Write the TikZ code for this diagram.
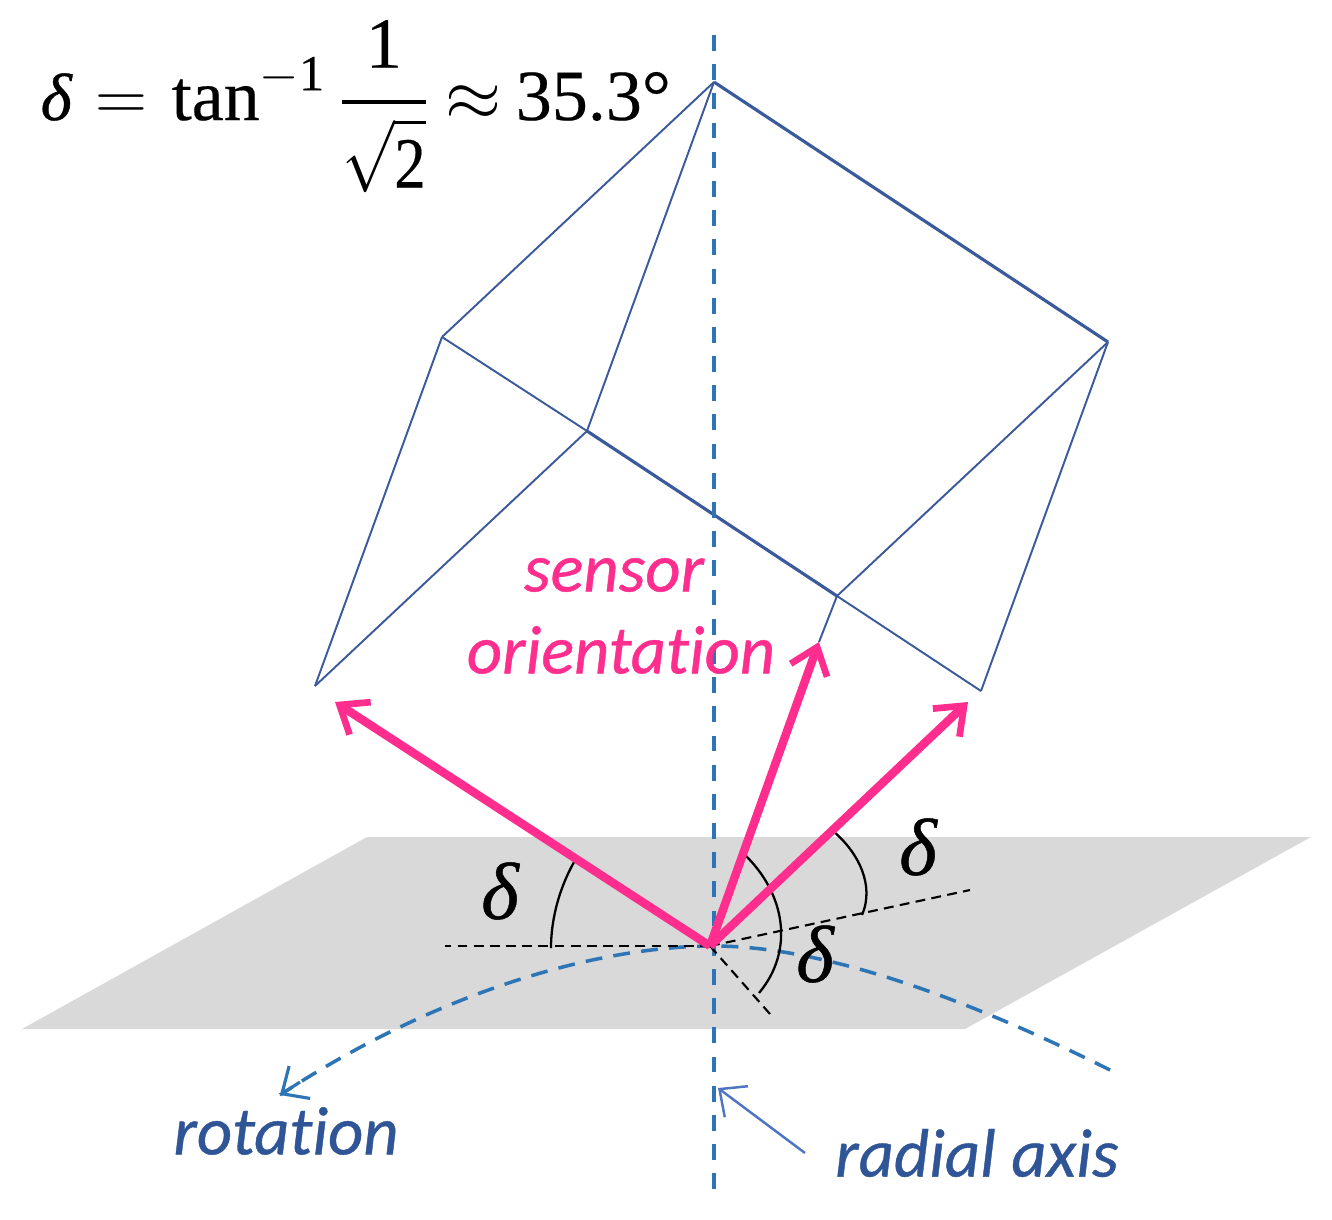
\RequirePackage{fix-cm}
\documentclass[tikz,border=0pt]{standalone}
\usepackage{amsmath, amssymb}
\usepackage{xcolor}
\usepackage{fontspec}
\setmainfont[FakeBold=0.3]{Liberation Serif}
\setsansfont[Ligatures=NoCommon, ItalicFeatures={FakeBold=0.6}]{Carlito}
\newfontface\deltaface[FakeBold=0.6]{Liberation Serif Italic}
\usepackage{tikz}
\usetikzlibrary{arrows.meta}

\definecolor{plane}{HTML}{D9D9D9}
\definecolor{cube}{HTML}{3A5A9C}
\definecolor{sensor}{HTML}{FF2E8E}
\definecolor{axis}{HTML}{2E75B6}
\definecolor{label}{HTML}{2F5597}
\definecolor{pointer}{HTML}{4F74C4}

\tikzset{
  edge/.style={draw=cube, line width=0.55pt},
  heavyedge/.style={draw=cube, line width=0.9pt},
  sensorvec/.style={draw=sensor, line width=2.4pt, -{Straight Barb[length=7pt, width=11pt, line width=1.9pt]}},
  axisline/.style={draw=axis, line width=1pt, dash pattern=on 4.5pt off 3.8pt},
  rotline/.style={draw=axis, line width=1pt, dash pattern=on 4.8pt off 3.2pt},
  refline/.style={draw=black, line width=0.6pt, dash pattern=on 2.8pt off 1.8pt},
  anglearc/.style={draw=black, line width=0.65pt},
  deltalabel/.style={font=\fontsize{23}{26}\selectfont\deltaface},
  bluelabel/.style={text=label, font=\sffamily\itshape\fontsize{19.5}{24}\selectfont},
  pinklabel/.style={text=sensor, font=\sffamily\itshape\fontsize{19.5}{24}\selectfont}
}

\begin{document}
\begin{tikzpicture}[x=0.01cm, y=-0.01cm]
\useasboundingbox (0,0) rectangle (1332,1220);

\fill[plane] (367,837) -- (1311,837) -- (965,1029) -- (22,1029) -- cycle;

% cube
\coordinate (top) at (714,82);
\coordinate (left) at (442,337);
\coordinate (right) at (1108,342);
\coordinate (back) at (587,431);
\coordinate (mid) at (837,596);
\coordinate (lowleft) at (315,686);
\coordinate (lowright) at (981,691);
\coordinate (origin) at (710,946);
\coordinate (lowmid) at (819,642);

\draw[edge] (top) -- (left);
\draw[heavyedge] (top) -- (right);
\draw[edge] (top) -- (back);
\draw[edge] (left) -- (back);
\draw[heavyedge] (back) -- (mid);
\draw[edge] (mid) -- (lowright);
\draw[edge] (left) -- (lowleft);
\draw[edge] (back) -- (lowleft);
\draw[edge] (mid) -- (right);
\draw[edge] (right) -- (lowright);
\draw[edge] (mid) -- (lowmid);

% axis and rotation
\coordinate (axistop) at (714,35);
\coordinate (axisend) at (714,1192);
\coordinate (rotleft) at (280,1095);
\coordinate (rotright) at (1110,1070);
\coordinate (pointtail) at (805,1153);
\coordinate (pointtip) at (718,1088);
\draw[axisline] (axistop) -- (axisend);
\draw[rotline] (rotright) .. controls (980,1005) and (830,946) .. (714,946);
\draw[rotline] (714,946) .. controls (600,946) and (440,990) .. (rotleft);
\draw[draw=axis, line width=0.9pt, -{Straight Barb[length=6pt, width=11pt]}] (300,1082) -- (rotleft);
\draw[draw=pointer, line width=0.7pt, -{Straight Barb[length=6pt, width=11pt]}] (pointtail) -- (pointtip);

% reference lines
\coordinate (refleft) at (445,946);
\coordinate (refright) at (970,890);
\coordinate (reflow) at (770,1014);
\draw[refline] (origin) -- (refleft);
\draw[refline] (origin) -- (refright);
\draw[refline] (origin) -- (reflow);

% angles
\draw[anglearc] (551,948) .. controls (551,918) and (560,885) .. (577,857);
\draw[anglearc] (833,831) .. controls (858,852) and (875,885) .. (862,915);
\draw[anglearc] (744,854) .. controls (785,893) and (795,950) .. (759,993);

% vectors
\draw[sensorvec] (origin) -- (335,702);
\draw[sensorvec] (origin) -- (lowmid);
\draw[sensorvec] (origin) -- (968,702);

% labels
\node[deltalabel] (deltaleft) at (500,891) {δ};
\node[deltalabel] (deltaright) at (918,847) {δ};
\node[deltalabel] (deltamid) at (815,954) {δ};
\node[pinklabel] (sensorword) at (614,575) {sensor};
\node[pinklabel] (orientword) at (621,650) {orientation};
\node[bluelabel] (rotword) at (286,1131) {rotation};
\node[bluelabel] (radialword) at (977,1153) {radial axis};
\node[anchor=base west, inner sep=0pt, font=\fontsize{20.5}{24}\selectfont] (formula) at (40,120) {$\displaystyle \nulldelimiterspace=0pt
  \text{\fontsize{19}{22}\selectfont\deltaface δ}\mkern6mu{=}\mkern6mu\mathrm{tan}^{-\mathrm{1}}\mkern4mu\genfrac{}{}{1.3pt}{0}{\hbox{\raise1pt\hbox{$\mathrm{1}$}}}{\hbox{\lower2.3pt\hbox{\scalebox{0.87}[1]{$\displaystyle\sqrt{\mathrm{2}}$}}}}\mkern5mu{\approx}\mkern3.5mu\text{35.3°}$};
\end{tikzpicture}
\end{document}
